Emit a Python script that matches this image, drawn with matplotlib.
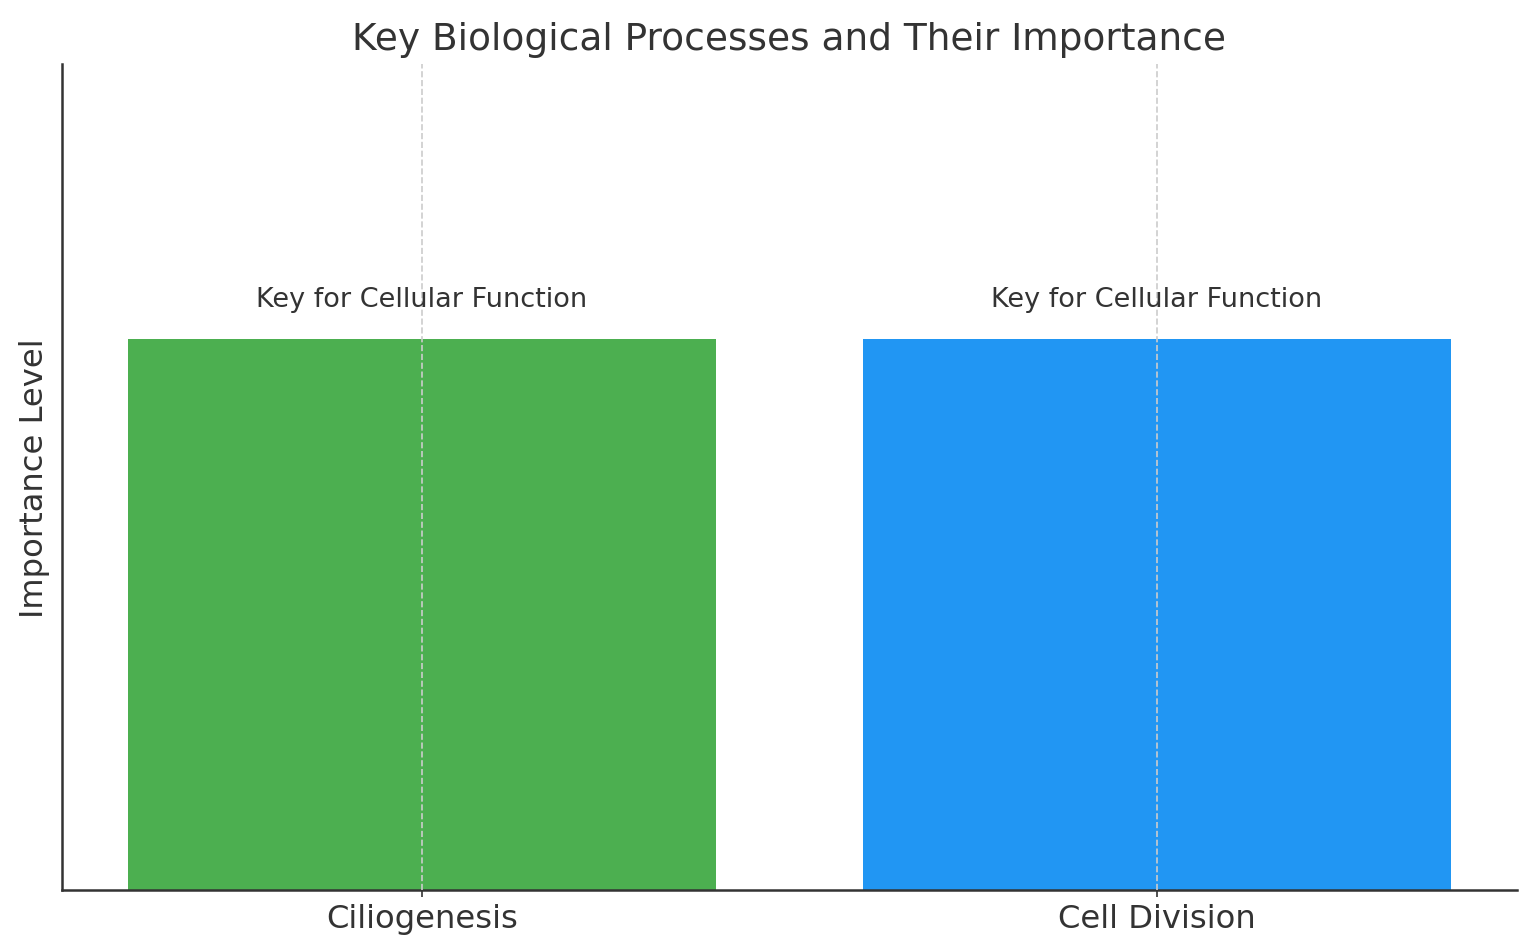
import matplotlib
matplotlib.use("Agg")
import matplotlib.pyplot as plt

# data
processes = ["Ciliogenesis", "Cell Division"]
importance = [1, 1]
bar_labels = ["Key for Cellular Function", "Key for Cellular Function"]
bar_colors = ["#4CAF50", "#2196F3"]

text_color = "#333333"

fig = plt.figure(figsize=(10.24, 6.353), dpi=150)
ax = fig.add_axes([0.0404, 0.065, 0.947, 0.867])

bars = ax.bar(processes, importance, color=bar_colors, width=0.8, zorder=1)

for bar, label in zip(bars, bar_labels):
    ax.text(bar.get_x() + bar.get_width() / 2, bar.get_height() + 0.05, label,
            ha="center", va="bottom", fontsize=13, color=text_color)

ax.set_ylim(0, 1.5)
ax.set_yticks([])
ax.set_ylabel("Importance Level", fontsize=15.5, color=text_color, labelpad=6)
ax.set_title("Key Biological Processes and Their Importance", fontsize=18,
             color=text_color, pad=7)
ax.tick_params(axis="x", labelsize=15.5, labelcolor=text_color, color=text_color,
               pad=2.5)

ax.grid(axis="x", linestyle="--", color="#cccccc", linewidth=0.8, zorder=2)
ax.set_axisbelow(False)
for side in ["top", "right"]:
    ax.spines[side].set_visible(False)
for side in ["left", "bottom"]:
    ax.spines[side].set_color(text_color)
    ax.spines[side].set_linewidth(1.2)

fig.savefig("out.png", dpi=150, facecolor="white")
